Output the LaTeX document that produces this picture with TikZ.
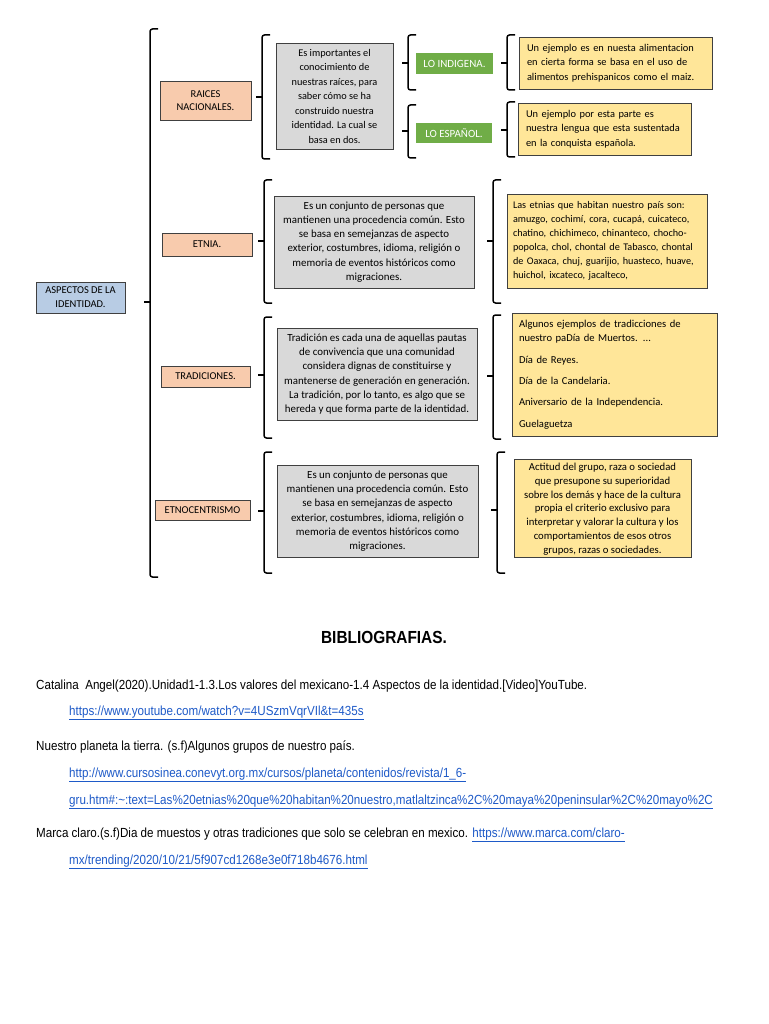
\documentclass[tikz,border=0pt]{standalone}
\usepackage{fontspec}
\setmainfont{Carlito}
\newfontfamily\biblio[FakeStretch=0.88]{Liberation Sans}
\definecolor{peach}{RGB}{248,203,173}
\definecolor{graybox}{RGB}{217,217,217}
\definecolor{greenbox}{RGB}{112,173,71}
\definecolor{yellowbox}{RGB}{255,230,153}
\definecolor{bluebox}{RGB}{184,204,228}
\definecolor{linkblue}{RGB}{30,90,200}
\newcommand\mybrace[4]{% x, top, bottom, tip y
  \draw[bracestyle] (#1+8,#2) -- (#1,#2) -- (#1,#3) -- (#1+8,#3);
  \draw[bracestyle,rounded corners=0pt] (#1,#4) -- (#1-6,#4);}
\newcommand\lnk[1]{\textcolor{linkblue}{\underline{#1}}}
\begin{document}
\begin{tikzpicture}[x=1pt,y=-1pt,
  bracestyle/.style={line width=1.5pt, rounded corners=2.5pt},
  box/.style={draw=black!75, line width=0.8pt, inner sep=0pt, align=center,
    font=\fontsize{10.9}{14.3}\selectfont},
  lbl/.style={box, fill=peach, font=\fontsize{10.5}{13}\selectfont},
  rootbox/.style={box, fill=bluebox, font=\fontsize{10.5}{14}\selectfont},
  gbox/.style={box, fill=graybox},
  ybox/.style={box, fill=yellowbox},
  grn/.style={fill=greenbox, text=white, inner sep=0pt, font=\fontsize{11}{13}\selectfont},
  bib/.style={anchor=base west, inner sep=0pt, font=\biblio\fontsize{13.2}{15}\selectfont},
]
\fill[white] (0,0) rectangle (768,1024);
\useasboundingbox (0,0) rectangle (768,1024);

% root
\node[rootbox, minimum width=89, minimum height=31] (root) at (80.5,297.5) {ASPECTOS DE LA\\IDENTIDAD.};
\mybrace{150}{29}{577}{302}

% row 1
\node[lbl, minimum width=91, minimum height=39] (raices) at (205.5,100.5) {RAICES\\NACIONALES.};
\mybrace{262}{35}{159}{97}
\node[gbox, minimum width=117, minimum height=106, font=\fontsize{10.3}{14.5}\selectfont] (g1) at (334.5,96) {Es importantes el\\conocimiento de\\nuestras raíces, para\\saber cómo se ha\\construido nuestra\\identidad. La cual se\\basa en dos.};
\mybrace{408}{35}{90}{63}
\mybrace{408}{105}{158}{131}
\node[grn, minimum width=77, minimum height=21] (ind) at (454.5,63.5) {LO INDIGENA.};
\node[grn, minimum width=76, minimum height=20] (esp) at (454,133) {LO ESPAÑOL.};
\mybrace{507}{35}{90}{63}
\mybrace{507}{102}{157}{130}
\node[ybox, minimum height=52, inner xsep=8pt, text width=177, align=left, font=\fontsize{10.4}{14.5}\selectfont] (y1) at (615.5,63) {Un ejemplo es en nuesta alimentacion\\en cierta forma se basa en el uso de\\alimentos prehispanicos como el maiz.};
\node[ybox, minimum height=52, inner xsep=8pt, text width=157, align=left, font=\fontsize{10.4}{14.5}\selectfont] (y2) at (604.5,129) {Un ejemplo por esta parte es\\nuestra lengua que esta sustentada\\en la conquista española.};

% row 2
\node[lbl, minimum width=90, minimum height=23] (etnia) at (207,244.5) {ETNIA.};
\mybrace{264}{180}{303}{241}
\node[gbox, minimum width=200, minimum height=92] (g2) at (374,242) {Es un conjunto de personas que\\mantienen una procedencia común. Esto\\se basa en semejanzas de aspecto\\exterior, costumbres, idioma, religión o\\memoria de eventos históricos como\\migraciones.};
\mybrace{493}{180}{303}{241}
\node[ybox, minimum height=94, inner xsep=6pt, text width=188, align=left, font=\fontsize{10.2}{13.9}\selectfont] (y3) at (607,241) {Las etnias que habitan nuestro país son:\\amuzgo, cochimí, cora, cucapá, cuicateco,\\chatino, chichimeco, chinanteco, chocho-\\popolca, chol, chontal de Tabasco, chontal\\de Oaxaca, chuj, guarijio, huasteco, huave,\\huichol, ixcateco, jacalteco,};

% row 3
\node[lbl, minimum width=89, minimum height=21] (trad) at (205.5,376.5) {TRADICIONES.};
\mybrace{264}{317}{438}{375}
\node[gbox, minimum width=200, minimum height=92] (g3) at (377,374) {Tradición es cada una de aquellas pautas\\de convivencia que una comunidad\\considera dignas de constituirse y\\mantenerse de generación en generación.\\La tradición, por lo tanto, es algo que se\\hereda y que forma parte de la identidad.};
\mybrace{493}{315}{439}{376}
\node[ybox, minimum height=123, inner xsep=7pt, text width=191, align=left, font=\fontsize{10.6}{14.3}\selectfont] (y4) at (614.5,374.5) {Algunos ejemplos de tradicciones de\\nuestro paDía de Muertos. ...\\[7pt]Día de Reyes.\\[7pt]Día de la Candelaria.\\[7pt]Aniversario de la Independencia.\\[7pt]Guelaguetza};

% row 4
\node[lbl, minimum width=95, minimum height=20] (etno) at (202.5,510) {ETNOCENTRISMO};
\mybrace{264}{452}{573}{511}
\node[gbox, minimum width=201, minimum height=92] (g4) at (377.5,511) {Es un conjunto de personas que\\mantienen una procedencia común. Esto\\se basa en semejanzas de aspecto\\exterior, costumbres, idioma, religión o\\memoria de eventos históricos como\\migraciones.};
\mybrace{497}{452}{573}{510}
\node[ybox, minimum width=177, minimum height=98] (y5) at (602.5,508) {};
\node[inner sep=0pt, align=center, font=\fontsize{10.7}{13.8}\selectfont] (y5text) at (602.5,509) {Actitud del grupo, raza o sociedad\\que presupone su superioridad\\sobre los demás y hace de la cultura\\propia el criterio exclusivo para\\interpretar y valorar la cultura y los\\comportamientos de esos otros\\grupos, razas o sociedades.};

% bibliography
\node[anchor=base, inner sep=0pt, font=\biblio\bfseries\fontsize{17.5}{19}\selectfont] (bibt) at (384,643) {BIBLIOGRAFIAS.};
\node[bib] (b1) at (36,689) {Catalina\ \ Angel(2020).Unidad1-1.3.Los valores del mexicano-1.4 Aspectos de la identidad.[Video]YouTube.};
\node[bib] (u1) at (69,715) {\lnk{https://www.youtube.com/watch?v=4USzmVqrVIl\&t=435s}};
\node[bib] (b2) at (36,750) {Nuestro planeta la tierra. (s.f)Algunos grupos de nuestro país.};
\node[bib] (u2a) at (69,777) {\lnk{http://www.cursosinea.conevyt.org.mx/cursos/planeta/contenidos/revista/1\_6-}};
\node[bib] (u2b) at (69,804) {\lnk{gru.htm\#:\textasciitilde:text=Las\%20etnias\%20que\%20habitan\%20nuestro,matlaltzinca\%2C\%20maya\%20peninsular\%2C\%20mayo\%2C}};
\node[bib] (b3) at (36,837) {Marca claro.(s.f)Dia de muestos y otras tradiciones que solo se celebran en mexico. \lnk{https://www.marca.com/claro-}};
\node[bib] (u3) at (69,864) {\lnk{mx/trending/2020/10/21/5f907cd1268e3e0f718b4676.html}};
\end{tikzpicture}
\end{document}
